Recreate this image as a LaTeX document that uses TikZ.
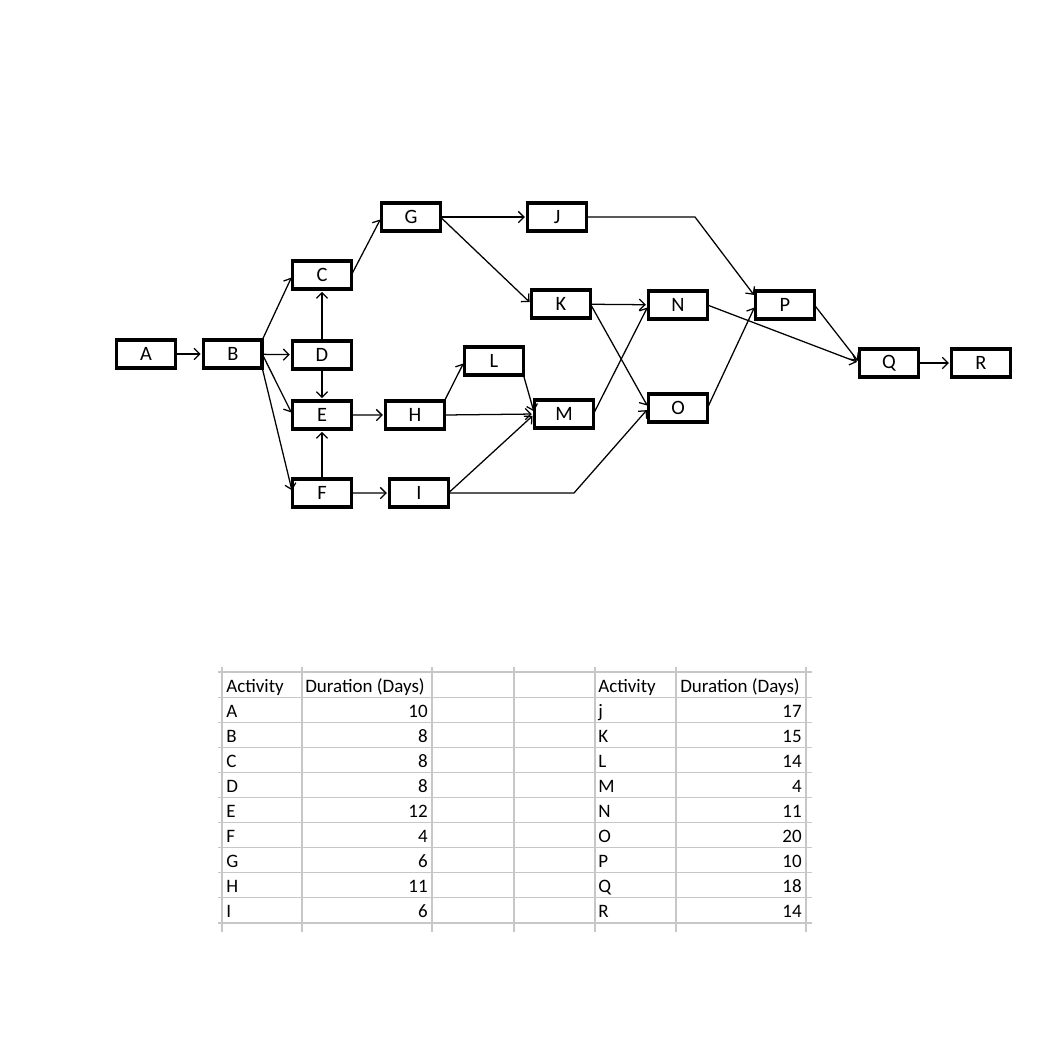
\documentclass[tikz,border=0pt]{standalone}
\usepackage{fontspec}
\setmainfont{Carlito}
\usetikzlibrary{arrows.meta, positioning}
\tikzstyle{activity} = [rectangle, minimum width=1.47cm, minimum height=0.7cm, inner sep=0pt, outer sep=0pt, text centered, draw=black, line width=2.6pt, font=\fontsize{14.5}{16}\selectfont]
\tikzstyle{arrow} = [line width=0.9pt,->,>={Straight Barb[length=4pt,width=8pt]}, shorten >=2pt, shorten <=1pt]
\tikzstyle{cell} = [inner sep=0pt, font=\fontsize{13.5}{15}\selectfont]
\tikzstyle{gridline} = [draw=black!22, line width=0.8pt]

\begin{document}
\begin{tikzpicture}[x=0.025cm, y=-0.025cm]
\useasboundingbox (0,0) rectangle (1048,1048);

% activity network
\node (A) [activity] at (146,354) {A};
\node (B) [activity, right=0.7cm of A] {B};
\node (D) [activity] at (322,355) {D};
\node (C) [activity, above=1.3cm of D] {C};
\node (E) [activity, below=0.8cm of D] {E};
\node (F) [activity, below=1.25cm of E] {F};

\node (G) [activity] at (411,217) {G};
\node (H) [activity] at (415,415) {H};
\node (I) [activity] at (419,493) {I};

\node (J) [activity] at (557,217) {J};
\node (K) [activity] at (561,304) {K};
\node (L) [activity] at (494,361) {L};
\node (M) [activity] at (564,414) {M};

\node (N) [activity] at (678,305) {N};
\node (O) [activity] at (678,408) {O};
\node (P) [activity] at (785,305) {P};

\node (Q) [activity] at (889,363) {Q};
\node (R) [activity, right=0.83cm of Q] {R};

\coordinate (ibend) at (574,493);
\coordinate (jbend) at (695,217);

\draw [arrow] (A) -- (B);
\draw [arrow] (B.north east) -- (C.west);
\draw [arrow] (B) -- (D);
\draw [arrow] (B.east) -- (E.west);
\draw [arrow] (B.south east) -- (F.west);
\draw [arrow] (D) -- (C);
\draw [arrow] (D) -- (E);
\draw [arrow] (F) -- (E);
\draw [arrow] (C.east) -- (G.west);
\draw [arrow] (E) -- (H);
\draw [arrow] (F) -- (I);
\draw [arrow] (G) -- (J);
\draw [arrow] (G.east) -- (K.west);
\draw [arrow] (H.north east) -- (L.west);
\draw [arrow] (H.east) -- (M.west);
\draw [arrow] (L.south east) -- (M.west);
\draw [arrow] (I.east) -- (M.west);
\draw [arrow] (I.east) -- (ibend) -- (O.west);
\draw [arrow] (K) -- (N);
\draw [arrow] (K.east) -- (O.west);
\draw [arrow] (M.east) -- (N.west);
\draw [arrow] (J.east) -- (jbend) -- (P.165);
\draw [arrow] (O.east) -- (P.west);
\draw [arrow] (N.east) -- (Q.west);
\draw [arrow] (P.east) -- (Q.west);
\draw [arrow] (Q) -- (R);

% duration table
\foreach \k in {0,...,10}
  \draw [gridline] (218,{672+25.1*\k}) -- (812,{672+25.1*\k});
\foreach \x in {222,302,432,514,595,676,806}
  \draw [gridline] (\x,667) -- (\x,932);

\node (acthead) [cell, anchor=base west] at (226,692) {Activity};
\node (durhead) [cell, anchor=base west] at (305,692) {Duration (Days)};
\node (acthead2) [cell, anchor=base west] at (598,692) {Activity};
\node (durhead2) [cell, anchor=base west] at (680,692) {Duration (Days)};

\foreach \act/\dur [count=\i] in {A/10,B/8,C/8,D/8,E/12,F/4,G/6,H/11,I/6}{
  \node (act\i) [cell, anchor=base west] at (226,{692+25.1*\i}) {\act};
  \node (dur\i) [cell, anchor=base east] at (428,{692+25.1*\i}) {\dur};
}
\foreach \act/\dur [count=\i] in {j/17,K/15,L/14,M/4,N/11,O/20,P/10,Q/18,R/14}{
  \node (acttwo\i) [cell, anchor=base west] at (598,{692+25.1*\i}) {\act};
  \node (durtwo\i) [cell, anchor=base east] at (802,{692+25.1*\i}) {\dur};
}
\end{tikzpicture}
\end{document}
